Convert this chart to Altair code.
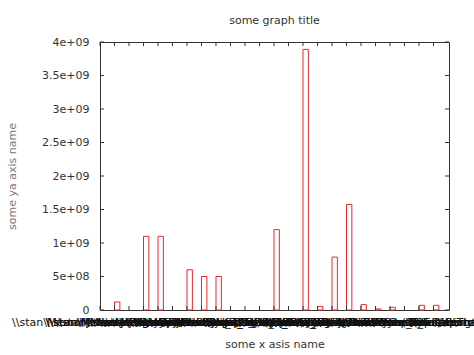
import json
import altair as alt
import pandas as pd

categories = [
    "\\\\stan\\Memory\\Available MBytes",
    "\\\\stan\\Memory\\Pages/sec",
    "\\\\stan\\Memory\\Page Faults/sec",
    "\\\\stan\\Memory\\Committed Bytes",
    "\\\\stan\\Memory\\Commit Limit",
    "\\\\stan\\Memory\\Cache Faults/sec",
    "\\\\stan\\Memory\\Pool Paged Bytes",
    "\\\\stan\\Memory\\Pool Nonpaged Bytes",
    "\\\\stan\\Memory\\Cache Bytes",
    "\\\\stan\\Processor(_Total)\\% Idle Time",
    "\\\\stan\\Processor(_Total)\\% User Time",
    "\\\\stan\\Processor(_Total)\\% Privileged Time",
    "\\\\stan\\PhysicalDisk(_Total)\\Disk Bytes/sec",
    "\\\\stan\\PhysicalDisk(_Total)\\Disk Reads/sec",
    "\\\\stan\\PhysicalDisk(_Total)\\Disk Read Bytes/sec",
    "\\\\stan\\PhysicalDisk(_Total)\\Disk Writes/sec",
    "\\\\stan\\PhysicalDisk(_Total)\\Disk Write Bytes/sec",
    "\\\\stan\\Network Interface\\Bytes Total/sec",
    "\\\\stan\\System\\Context Switches/sec",
    "\\\\stan\\System\\Processor Queue Length",
    "\\\\stan\\System\\File Read Operations/sec",
    "\\\\stan\\System\\Exception Dispatches/sec",
    "\\\\stan\\Process(_Total)\\Semaphores",
    "\\\\stan\\Process(_Total)\\Thread Count",
]
values = [
    0, 1.2e8, 0, 1.1e9, 1.1e9, 0, 6.0e8, 5.0e8, 5.0e8, 0, 0, 0,
    1.2e9, 0, 3.89e9, 5.0e7, 7.9e8, 1.575e9, 8.0e7, 1.5e7, 4.0e7, 0,
    7.0e7, 7.0e7,
]
y_ticks = [0, 5e8, 1e9, 1.5e9, 2e9, 2.5e9, 3e9, 3.5e9, 4e9]
x_ticks = list(range(len(categories)))

BAR_W = 0.37
W, H = 349, 268
FONT = "DejaVu Sans"
RED = "#e8282e"
FRAME = "#333333"

df = pd.DataFrame({"pos": x_ticks, "name": categories, "value": values})
xt = pd.DataFrame({"pos": x_ticks})
yt = pd.DataFrame({"value": y_ticks})

labels_js = "[" + ",".join(json.dumps(c) for c in categories) + "]"
x_label_expr = f"{labels_js}[datum.value]"
y_label_expr = "datum.value == 0 ? '0' : replace(format(datum.value, '~e'), 'e+', 'e+0')"

x_scale = alt.Scale(domain=[0, 24.07], nice=False, zero=False)
y_scale = alt.Scale(domain=[0, 4e9], nice=False)

x_axis = alt.Axis(
    values=x_ticks,
    labelExpr=x_label_expr,
    labelOverlap=False,
    labelFlush=False,
    labelBound=False,
    labelLimit=1000,
    tickSize=0,
    domain=False,
    grid=False,
    labelPadding=6,
    labelFont=FONT,
    labelFontSize=11,
    labelColor="#111111",
    title="some x asis name",
    titleFont=FONT,
    titleFontSize=11,
    titleFontWeight="normal",
    titleColor="#333333",
    titlePadding=11,
)
y_axis = alt.Axis(
    values=y_ticks,
    labelExpr=y_label_expr,
    labelOverlap=False,
    labelFlush=False,
    tickSize=0,
    domain=False,
    grid=False,
    labelPadding=11,
    labelFont=FONT,
    labelFontSize=11,
    labelColor="#333333",
    title="some ya axis name",
    titleFont=FONT,
    titleFontSize=11,
    titleFontWeight="normal",
    titleColor="#777777",
    titlePadding=24,
)

X = alt.X("pos:Q", scale=x_scale, axis=x_axis)
Y = alt.Y("value:Q", scale=y_scale, axis=y_axis)

bars = (
    alt.Chart(df)
    .transform_filter("datum.value > 0")
    .transform_calculate(pos2=f"datum.pos + {BAR_W}")
    .mark_rect(fill="white", stroke=RED, strokeWidth=1)
    .encode(x=X, x2="pos2:Q", y=Y, y2=alt.datum(0))
)

xticks_bottom = alt.Chart(xt).mark_rule(color=FRAME, strokeWidth=1).encode(
    x=X, y=alt.value(H), y2=alt.value(H - 4)
)
xticks_top = alt.Chart(xt).mark_rule(color=FRAME, strokeWidth=1).encode(
    x=X, y=alt.value(0), y2=alt.value(4)
)
yticks_left = alt.Chart(yt).mark_rule(color=FRAME, strokeWidth=1).encode(
    y=Y, x=alt.value(0), x2=alt.value(4)
)
yticks_right = alt.Chart(yt).mark_rule(color=FRAME, strokeWidth=1).encode(
    y=Y, x=alt.value(W), x2=alt.value(W - 4)
)

chart = (
    alt.layer(bars, xticks_bottom, xticks_top, yticks_left, yticks_right)
    .properties(
        width=W,
        height=H,
        title=alt.TitleParams(
            "some graph title",
            font=FONT,
            fontSize=11,
            fontWeight="normal",
            color="#333333",
            anchor="middle",
            offset=10,
        ),
        autosize=alt.AutoSizeParams(type="none"),
        padding={"left": 100, "top": 42, "right": 25, "bottom": 45},
        background="white",
    )
    .configure_view(stroke=FRAME, strokeWidth=1)
)

chart.save("out.html", embed_options={"renderer": "svg", "actions": False})
